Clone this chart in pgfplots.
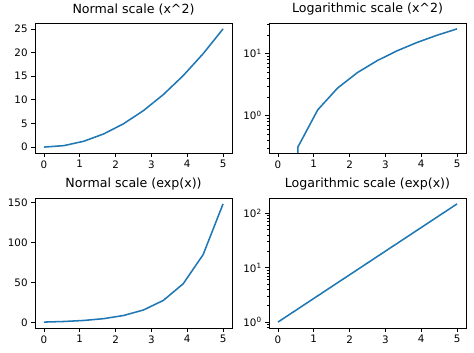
\documentclass[border=0pt]{standalone}
\usepackage{pgfplots}
\pgfplotsset{compat=1.18}
\usepackage{fontspec}
\setmainfont{DejaVu Sans}
\definecolor{mplblue}{HTML}{1F77B4}
\pgfplotsset{
  mpl/.style={
    scale only axis, width=197pt, height=130pt, anchor=south west,
    axis line style={line width=0.8pt, black},
    tick align=outside, tick pos=lower,
    major tick length=3.6pt, minor tick length=2.1pt,
    every tick/.style={line width=0.8pt, black},
    minor tick style={line width=0.6pt, black},
    /pgf/number format/assume math mode=true,
    tick label style={font=\fontsize{10.3}{12}\selectfont, inner sep=0pt},
    xticklabel style={yshift=-3.6pt},
    yticklabel style={xshift=-3.6pt},
    title style={font=\fontsize{12.6}{14}\selectfont, inner sep=0pt, yshift=2pt},
    xmin=-0.25, xmax=5.25, xtick={0,1,2,3,4,5},
    cycle list={{mplblue, mark=none}},
    every axis plot post/.append style={line width=1.54pt, line join=round},
  }
}
\pgfplotstableread{
x y
0.0000 0.0000
0.5556 0.3086
1.1111 1.2346
1.6667 2.7778
2.2222 4.9383
2.7778 7.7160
3.3333 11.1111
3.8889 15.1235
4.4444 19.7531
5.0000 25.0000
}\sqdata
\pgfplotstableread{
x y
0.5556 0.0100
0.5556 0.3086
1.1111 1.2346
1.6667 2.7778
2.2222 4.9383
2.7778 7.7160
3.3333 11.1111
3.8889 15.1235
4.4444 19.7531
5.0000 25.0000
}\sqlogdata
\pgfplotstableread{
x y
0.0000 1.0000
0.5556 1.7429
1.1111 3.0377
1.6667 5.2945
2.2222 9.2278
2.7778 16.0832
3.3333 28.0316
3.8889 48.8565
4.4444 85.1525
5.0000 148.4132
}\expdata
\begin{document}
\begin{tikzpicture}
\useasboundingbox (0pt,0pt) rectangle (474pt,353pt);
\begin{axis}[mpl, at={(35pt,200pt)}, title={Normal scale (x\^{}2)},
  ymin=-1.25, ymax=26.25, ytick={0,5,10,15,20,25}]
\addplot table[x=x,y=y] {\sqdata};
\end{axis}
\begin{axis}[mpl, at={(269pt,200pt)}, title={Logarithmic scale (x\^{}2)},
  ymode=log, ymin=0.248, ymax=31.1, ytick={1,10},
  yticklabels={10\textsuperscript{0},10\textsuperscript{1}},
  minor ytick={0.3,0.4,0.5,0.6,0.7,0.8,0.9,2,3,4,5,6,7,8,9,20,30}]
\addplot table[x=x,y=y] {\sqlogdata};
\end{axis}
\begin{axis}[mpl, at={(35pt,25pt)}, title={Normal scale (exp(x))},
  ymin=-6.37, ymax=155.78, ytick={0,50,100,150}]
\addplot table[x=x,y=y] {\expdata};
\end{axis}
\begin{axis}[mpl, at={(269pt,25pt)}, title={Logarithmic scale (exp(x))},
  ymode=log, ymin=0.779, ymax=190.5, ytick={1,10,100},
  yticklabels={10\textsuperscript{0},10\textsuperscript{1},10\textsuperscript{2}},
  minor ytick={0.8,0.9,2,3,4,5,6,7,8,9,20,30,40,50,60,70,80,90}]
\addplot table[x=x,y=y] {\expdata};
\end{axis}
\end{tikzpicture}
\end{document}
